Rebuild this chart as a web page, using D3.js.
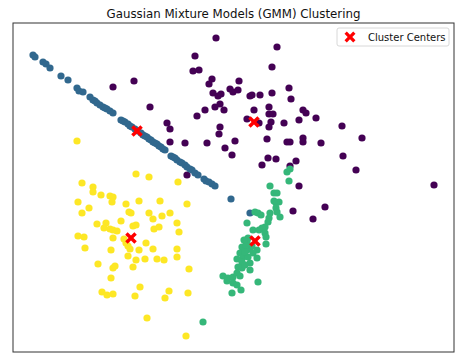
<!DOCTYPE html>
<html>
<head>
<meta charset="utf-8">
<script src="https://cdn.jsdelivr.net/npm/d3@7/dist/d3.min.js"></script>
<style>
  body { margin: 0; background: #fff; }
  text { font-family: "DejaVu Sans", sans-serif; }
</style>
</head>
<body>
<svg id="chart"></svg>
<script>
// readings of the picture, in the plot's own (unlabelled) units
const cluster0 = [[216,38],[277,47],[195,56],[193,71],[199,70],[272,67],[134,81],[113,87],[212,79],[209,84],
  [239,81],[230,89],[233,92],[238,90],[213,93],[218,96],[221,94],[250,96],[252,95],[260,95],[272,93],[289,88],
  [291,99],[220,104],[215,107],[224,110],[205,110],[197,116],[254,110],[269,107],[269,114],[273,114],[303,110],
  [306,113],[316,118],[299,120],[247,119],[259,123],[271,122],[284,123],[269,127],[167,123],[170,129],[220,127],
  [219,134],[150,107],[267,139],[170,142],[185,143],[207,143],[235,141],[287,142],[290,142],[303,138],[303,142],
  [321,143],[342,126],[362,138],[232,155],[225,148],[268,158],[276,159],[262,165],[296,161],[290,166],[343,156],
  [356,170],[299,186],[434,185],[187,175],[325,207],[313,219],[293,211]];
const cluster1 = [[33,55],[35,57],[43,62],[46,64],[50,68],[61,76],[68,80],[77,88],[79,91],[83,92],[90,97],[93,100],
  [95,101],[97,103],[100,105],[103,107],[105,108],[107,109],[110,111],[113,113],[121,120],[123,121],[125,122],
  [128,124],[130,126],[132,127],[135,129],[138,131],[141,133],[143,135],[145,136],[147,137],[149,139],[151,140],
  [153,142],[155,143],[157,144],[159,146],[161,147],[163,149],[165,150],[171,156],[173,157],[175,158],[177,160],
  [180,162],[182,163],[185,165],[187,167],[190,169],[192,170],[195,173],[198,175],[204,179],[206,181],[209,182],
  [212,184],[215,186],[231,199],[250,213]];
const cluster2 = [[287,172],[290,169],[289,181],[270,186],[274,193],[277,193],[279,202],[276,203],[274,201],[276,208],
  [280,217],[277,212],[255,212],[258,213],[261,215],[247,223],[270,213],[269,218],[268,222],[265,227],[262,228],
  [253,230],[259,230],[265,233],[266,237],[248,238],[266,244],[247,242],[242,247],[247,250],[250,248],[257,250],
  [253,253],[240,253],[243,257],[248,257],[257,258],[237,259],[242,262],[250,263],[238,267],[242,268],[245,252],
  [252,246],[223,276],[228,278],[233,277],[237,273],[240,276],[227,281],[233,283],[237,285],[258,282],[232,293],
  [241,290],[203,322],[245,265],[250,270],[246,245],[244,240]];
const cluster3 = [[77,141],[136,174],[149,177],[178,182],[82,183],[93,187],[93,192],[101,195],[110,196],[113,197],
  [112,202],[78,202],[89,208],[82,213],[126,204],[139,201],[160,201],[187,204],[129,212],[131,213],[149,213],
  [170,213],[162,216],[97,224],[106,223],[104,228],[110,229],[113,230],[117,231],[121,221],[133,226],[136,225],
  [153,219],[154,229],[159,227],[177,223],[179,232],[78,236],[84,237],[113,238],[124,239],[126,243],[128,246],
  [130,249],[85,248],[111,250],[146,243],[139,250],[153,249],[177,249],[177,257],[128,256],[136,260],[145,259],
  [157,259],[164,260],[98,264],[133,267],[113,268],[115,266],[189,269],[111,278],[140,287],[102,292],[107,295],
  [113,294],[135,296],[169,291],[165,298],[188,293],[147,318],[186,336]];
const centers = [[137,131],[254,122],[131,238],[255,241]];

const clusterColors = ["#440154", "#31688e", "#35b779", "#fde725"];
const titleText = "Gaussian Mixture Models (GMM) Clustering";
const legendLabel = "Cluster Centers";

const W = 474, H = 362;
const margin = { top: 23, right: 20, bottom: 10, left: 13 };
const width = W - margin.left - margin.right;
const height = H - margin.top - margin.bottom;

const svg = d3.select("#chart").attr("width", W).attr("height", H);

svg.append("text")
  .attr("x", margin.left + width / 2)
  .attr("y", 17.5)
  .attr("text-anchor", "middle")
  .style("font-size", "11.8px")
  .style("fill", "#111")
  .text(titleText);

const g = svg.append("g").attr("transform", "translate(" + margin.left + "," + margin.top + ")");

const x = d3.scaleLinear().domain([13, 454]).range([0, width]);
const y = d3.scaleLinear().domain([23, 352]).range([0, height]);

// filled "X" marker like matplotlib's
function xMarker(s) {
  const t = s * 0.42;
  const pts = [[0,-t],[s-t,-s],[s,-s+t],[t,0],[s,s-t],[s-t,s],[0,t],[-s+t,s],[-s,s-t],[-t,0],[-s,-s+t],[-s+t,-s]];
  return "M" + pts.map(p => p.join(",")).join("L") + "Z";
}

const points = [];
[cluster0, cluster1, cluster2, cluster3].forEach((pts, k) => pts.forEach(p => points.push({ x: p[0], y: p[1], k })));

g.selectAll(".pt")
  .data(points)
  .enter()
  .append("circle")
  .attr("class", "pt")
  .attr("cx", d => x(d.x))
  .attr("cy", d => y(d.y))
  .attr("r", 3.6)
  .style("fill", d => clusterColors[d.k]);

g.selectAll(".center")
  .data(centers)
  .enter()
  .append("path")
  .attr("class", "center")
  .attr("transform", d => "translate(" + x(d[0]) + "," + y(d[1]) + ")")
  .attr("d", xMarker(5.8))
  .style("fill", "red");

g.append("rect")
  .attr("width", width)
  .attr("height", height)
  .style("fill", "none")
  .style("stroke", "#333")
  .style("stroke-width", 1);

// legend
const lg = svg.append("g").attr("transform", "translate(337,28)");
lg.append("rect")
  .attr("width", 112)
  .attr("height", 18)
  .attr("rx", 2)
  .style("fill", "#fff")
  .style("fill-opacity", 0.8)
  .style("stroke", "#d8d8d8");
lg.append("path")
  .attr("transform", "translate(13,9)")
  .attr("d", xMarker(5.5))
  .style("fill", "red");
lg.append("text")
  .attr("x", 31)
  .attr("y", 12.8)
  .style("font-size", "10px")
  .style("fill", "#111")
  .text(legendLabel);
</script>
</body>
</html>
